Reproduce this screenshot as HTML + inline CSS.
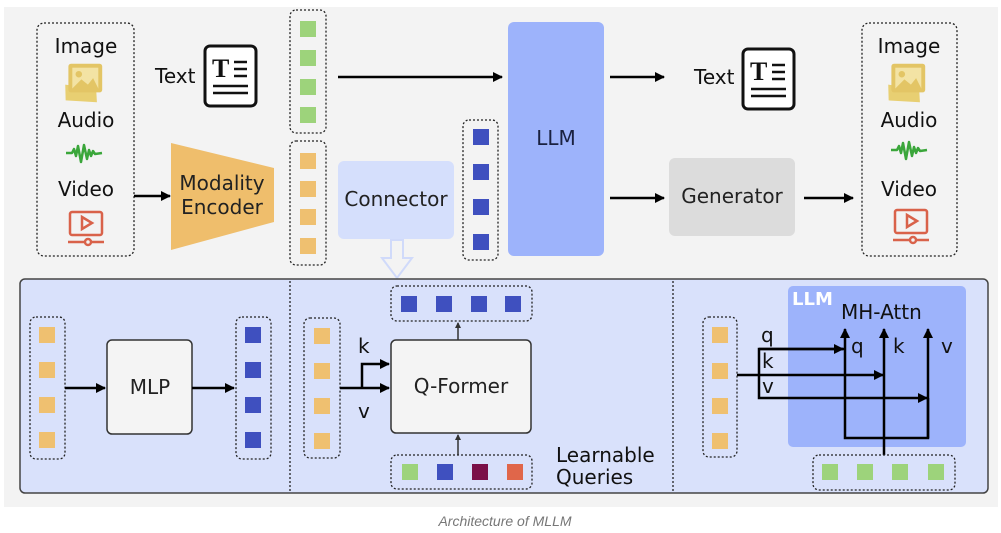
<!DOCTYPE html>
<html><head><meta charset="utf-8"><style>
html,body{margin:0;padding:0;background:#fff;}
svg{display:block;font-family:"DejaVu Sans","Liberation Sans",sans-serif;}
</style></head><body>
<svg width="1001" height="533" viewBox="0 0 1001 533" xmlns="http://www.w3.org/2000/svg">
<defs>
<marker id="ah" markerWidth="10" markerHeight="10" refX="9" refY="5" orient="auto" markerUnits="userSpaceOnUse"><path d="M0,0 L10,5 L0,10 z" fill="#000"/></marker>
<marker id="as" markerWidth="6" markerHeight="6" refX="5" refY="3" orient="auto" markerUnits="userSpaceOnUse"><path d="M0,0 L6,3 L0,6 z" fill="#333"/></marker>
<g id="imgicon" transform="scale(1.3)">
<path d="M-14,4 L10,4 L12,14 L-12,16 z" fill="#e8cf72" transform="rotate(8)"/>
<rect x="-12" y="-14" width="26" height="22" rx="2" fill="#e3c565"/>
<rect x="-9" y="-11" width="20" height="16" fill="#f3e3a4"/>
<circle cx="-4" cy="-6" r="2.5" fill="#e3c565"/>
<path d="M-9,5 L-2,-2 L3,2 L7,-3 L11,5 z" fill="#e3c565"/>
</g>
<g id="wave"><path d="M-18,0 L-12,0 L-10,-4 L-8,3 L-6,-7 L-3,9 L0,-8 L3,6 L5,-3 L7,3 L9,-2 L11,1 L18,0" fill="none" stroke="#3aa63a" stroke-width="2.5" stroke-linejoin="round"/></g>
<g id="vid" fill="none" stroke="#d9624a" stroke-width="2.5">
<rect x="-16" y="-16" width="32" height="23" rx="2"/>
<path d="M-4,-11 L6,-5 L-4,1 z"/>
<line x1="-18" y1="14" x2="18" y2="14"/><circle cx="2" cy="14" r="3" fill="#f3f3f3"/>
</g>
<g id="txt">
<rect x="0" y="0" width="51" height="60" rx="5" fill="#fff" stroke="#111" stroke-width="3"/>
<text x="7" y="31" font-family="Liberation Serif,serif" font-size="26" font-weight="bold" fill="#111">T</text>
<line x1="29" y1="16" x2="42" y2="16" stroke="#111" stroke-width="2.5"/>
<line x1="29" y1="23" x2="42" y2="23" stroke="#111" stroke-width="2.5"/>
<line x1="29" y1="30" x2="42" y2="30" stroke="#111" stroke-width="2.5"/>
<line x1="8" y1="40" x2="43" y2="40" stroke="#111" stroke-width="2.5"/>
<line x1="8" y1="47" x2="43" y2="47" stroke="#111" stroke-width="2.5"/>
</g>
</defs>
<rect x="4" y="7" width="994" height="500" fill="#f3f3f3"/>

<rect x="37" y="23" width="97" height="233" rx="7" fill="none" stroke="#222" stroke-width="1.3" stroke-dasharray="2,2"/>
<g font-size="20" fill="#111" text-anchor="middle">
<text x="86" y="53">Image</text><text x="86" y="127">Audio</text><text x="86" y="196">Video</text>
</g>
<use href="#imgicon" x="84" y="82"/><use href="#wave" x="84" y="153"/><use href="#vid" x="86" y="228"/>
<line x1="134" y1="196" x2="170" y2="196" stroke="#000" stroke-width="2.5" marker-end="url(#ah)"/>
<path d="M171,143 L274,168 L274,222 L171,250 z" fill="#efbe6c"/>
<text x="222" y="190" font-size="20" text-anchor="middle" fill="#222">Modality</text>
<text x="222" y="214" font-size="20" text-anchor="middle" fill="#222">Encoder</text>

<text x="155" y="83" font-size="20" fill="#111">Text</text>
<use href="#txt" x="205" y="46"/>

<rect x="290" y="10" width="36" height="123" rx="6" fill="none" stroke="#222" stroke-width="1.3" stroke-dasharray="2,2"/>
<g fill="#9dd37b"><rect x="300" y="21" width="16" height="16"/><rect x="300" y="50" width="16" height="16"/><rect x="300" y="79" width="16" height="16"/><rect x="300" y="107" width="16" height="16"/></g>
<rect x="290" y="141" width="36" height="124" rx="6" fill="none" stroke="#222" stroke-width="1.3" stroke-dasharray="2,2"/>
<g fill="#efc070"><rect x="300" y="153" width="16" height="16"/><rect x="300" y="181" width="16" height="16"/><rect x="300" y="209" width="16" height="16"/><rect x="300" y="238" width="16" height="16"/></g>

<line x1="338" y1="77" x2="502" y2="77" stroke="#000" stroke-width="2.5" marker-end="url(#ah)"/>
<rect x="338" y="161" width="116" height="78" rx="6" fill="#d5dffc"/>
<text x="396" y="206" font-size="20" text-anchor="middle" fill="#222">Connector</text>
<path d="M391,240 L403,240 L403,258 L412,258 L397,278 L382,258 L391,258 z" fill="none" stroke="#d0dafa" stroke-width="2"/>

<rect x="463" y="120" width="35" height="140" rx="6" fill="none" stroke="#222" stroke-width="1.3" stroke-dasharray="2,2"/>
<g fill="#3f50bf"><rect x="473" y="129" width="16" height="16"/><rect x="473" y="164" width="16" height="16"/><rect x="473" y="199" width="16" height="16"/><rect x="473" y="234" width="16" height="16"/></g>

<rect x="508" y="22" width="96" height="234" rx="6" fill="#9db3fb"/>
<text x="556" y="145" font-size="20" text-anchor="middle" fill="#1a2140">LLM</text>

<line x1="610" y1="77" x2="664" y2="77" stroke="#000" stroke-width="2.5" marker-end="url(#ah)"/>
<text x="694" y="84" font-size="20" fill="#111">Text</text>
<use href="#txt" x="743" y="49"/>
<line x1="610" y1="198" x2="664" y2="198" stroke="#000" stroke-width="2.5" marker-end="url(#ah)"/>
<rect x="669" y="158" width="126" height="78" rx="6" fill="#dcdcdc"/>
<text x="732" y="203" font-size="20" text-anchor="middle" fill="#222">Generator</text>
<line x1="804" y1="198" x2="853" y2="198" stroke="#000" stroke-width="2.5" marker-end="url(#ah)"/>

<rect x="862" y="23" width="95" height="233" rx="7" fill="none" stroke="#222" stroke-width="1.3" stroke-dasharray="2,2"/>
<g font-size="20" fill="#111" text-anchor="middle">
<text x="909" y="53">Image</text><text x="909" y="127">Audio</text><text x="909" y="196">Video</text>
</g>
<use href="#imgicon" x="907" y="82"/><use href="#wave" x="909" y="150"/><use href="#vid" x="911" y="226"/>

<rect x="20" y="279" width="968" height="214" rx="5" fill="#d9e1fb" stroke="#444" stroke-width="1.5"/>
<line x1="290" y1="281" x2="290" y2="491" stroke="#222" stroke-width="1.3" stroke-dasharray="2,2"/>
<line x1="673" y1="281" x2="673" y2="491" stroke="#222" stroke-width="1.3" stroke-dasharray="2,2"/>

<rect x="30" y="317" width="35" height="142" rx="6" fill="none" stroke="#222" stroke-width="1.3" stroke-dasharray="2,2"/>
<g fill="#efc070"><rect x="39" y="327" width="16" height="16"/><rect x="39" y="362" width="16" height="16"/><rect x="39" y="397" width="16" height="16"/><rect x="39" y="432" width="16" height="16"/></g>
<line x1="65" y1="388" x2="105" y2="388" stroke="#000" stroke-width="2.5" marker-end="url(#ah)"/>
<rect x="107" y="340" width="85" height="94" rx="5" fill="#f4f4f4" stroke="#333" stroke-width="1.5"/>
<text x="150" y="394" font-size="20" text-anchor="middle" fill="#222">MLP</text>
<line x1="192" y1="388" x2="234" y2="388" stroke="#000" stroke-width="2.5" marker-end="url(#ah)"/>
<rect x="236" y="317" width="35" height="142" rx="6" fill="none" stroke="#222" stroke-width="1.3" stroke-dasharray="2,2"/>
<g fill="#3f50bf"><rect x="245" y="327" width="16" height="16"/><rect x="245" y="362" width="16" height="16"/><rect x="245" y="397" width="16" height="16"/><rect x="245" y="432" width="16" height="16"/></g>

<rect x="304" y="318" width="36" height="140" rx="6" fill="none" stroke="#222" stroke-width="1.3" stroke-dasharray="2,2"/>
<g fill="#efc070"><rect x="314" y="328" width="16" height="16"/><rect x="314" y="363" width="16" height="16"/><rect x="314" y="398" width="16" height="16"/><rect x="314" y="433" width="16" height="16"/></g>
<line x1="340" y1="388" x2="389" y2="388" stroke="#000" stroke-width="2.5" marker-end="url(#ah)"/>
<polyline points="362,388 362,364 389,364" fill="none" stroke="#000" stroke-width="2.5" marker-end="url(#ah)"/>
<text x="358" y="353" font-size="20" fill="#111">k</text>
<text x="358" y="418" font-size="20" fill="#111">v</text>
<rect x="391" y="340" width="140" height="93" rx="5" fill="#f4f4f4" stroke="#333" stroke-width="1.5"/>
<text x="461" y="393" font-size="20" text-anchor="middle" fill="#222">Q-Former</text>
<line x1="458" y1="340" x2="458" y2="323" stroke="#333" stroke-width="1.5" marker-end="url(#as)"/>
<line x1="458" y1="455" x2="458" y2="435" stroke="#333" stroke-width="1.5" marker-end="url(#as)"/>
<rect x="391" y="286" width="141" height="35" rx="6" fill="none" stroke="#222" stroke-width="1.3" stroke-dasharray="2,2"/>
<g fill="#3f50bf"><rect x="401" y="296" width="16" height="16"/><rect x="436" y="296" width="16" height="16"/><rect x="471" y="296" width="16" height="16"/><rect x="505" y="296" width="16" height="16"/></g>
<rect x="391" y="455" width="141" height="34" rx="6" fill="none" stroke="#222" stroke-width="1.3" stroke-dasharray="2,2"/>
<rect x="402" y="464" width="16" height="16" fill="#9dd37b"/><rect x="437" y="464" width="16" height="16" fill="#3f50bf"/><rect x="472" y="464" width="16" height="16" fill="#7b1048"/><rect x="507" y="464" width="16" height="16" fill="#e0664a"/>
<text x="556" y="462" font-size="20" fill="#111">Learnable</text>
<text x="556" y="484" font-size="20" fill="#111">Queries</text>

<rect x="788" y="286" width="178" height="161" rx="5" fill="#9db3fb"/>
<text x="792" y="305" font-size="18" font-weight="bold" fill="#fff">LLM</text>
<text x="841" y="319" font-size="20" fill="#111">MH-Attn</text>
<rect x="703" y="317" width="34" height="140" rx="6" fill="none" stroke="#222" stroke-width="1.3" stroke-dasharray="2,2"/>
<g fill="#efc070"><rect x="712" y="327" width="16" height="16"/><rect x="712" y="363" width="16" height="16"/><rect x="712" y="398" width="16" height="16"/><rect x="712" y="433" width="16" height="16"/></g>
<g stroke="#000" stroke-width="2.5" fill="none">
<line x1="737" y1="375" x2="883" y2="375" marker-end="url(#ah)"/>
<polyline points="844,349 759,349 759,398 927,398" marker-end="url(#ah)"/>
<line x1="759" y1="349" x2="843" y2="349" marker-end="url(#ah)"/>
<polyline points="928,398 928,438 845,438 845,329" marker-end="url(#ah)"/>
<line x1="928" y1="438" x2="928" y2="329" marker-end="url(#ah)"/>
<line x1="884" y1="455" x2="884" y2="329" marker-end="url(#ah)"/>
</g>
<g font-size="20" fill="#111">
<text x="761" y="342">q</text><text x="762" y="368">k</text><text x="762" y="393">v</text>
<text x="851" y="353">q</text><text x="893" y="353">k</text><text x="941" y="353">v</text>
</g>
<rect x="813" y="455" width="142" height="35" rx="6" fill="none" stroke="#222" stroke-width="1.3" stroke-dasharray="2,2"/>
<g fill="#9dd37b"><rect x="822" y="464" width="16" height="16"/><rect x="857" y="464" width="16" height="16"/><rect x="892" y="464" width="16" height="16"/><rect x="928" y="464" width="16" height="16"/></g>

<text x="505" y="526" font-size="14" font-style="italic" text-anchor="middle" fill="#777" font-family="Liberation Sans,sans-serif">Architecture of MLLM</text>
</svg>
</body></html>
